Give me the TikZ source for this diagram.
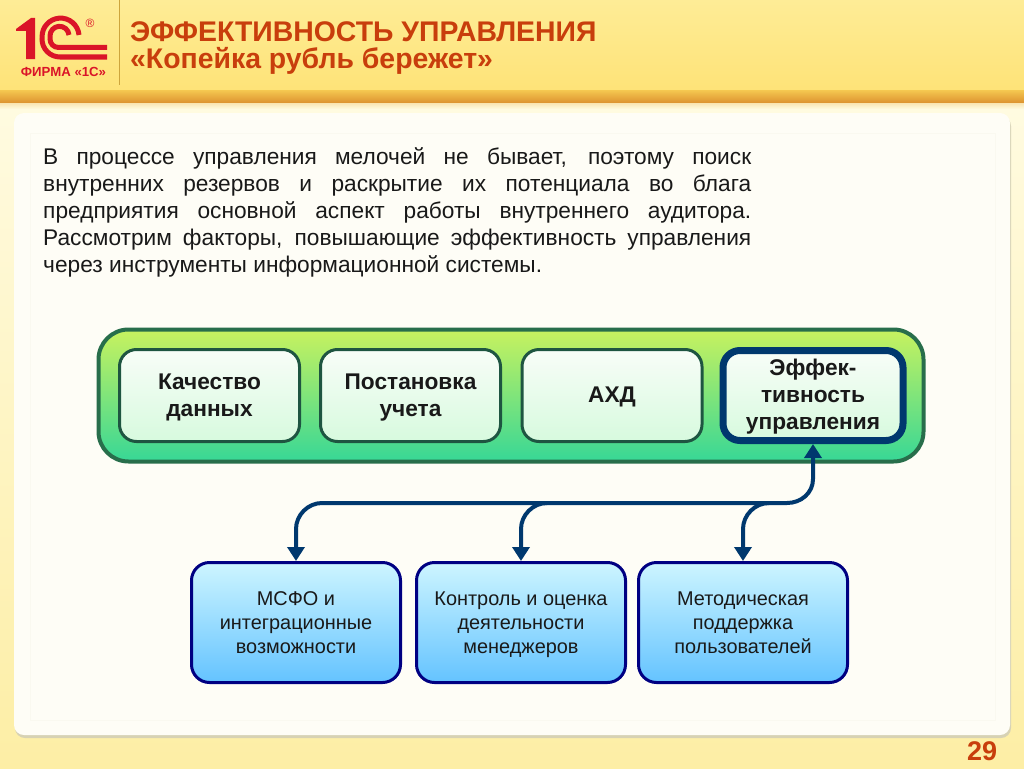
\documentclass[tikz,border=0pt]{standalone}
\usepackage{fontspec}
\setmainfont{Liberation Sans}
\usetikzlibrary{arrows.meta,calc}
\definecolor{titlered}{RGB}{200,62,12}
\definecolor{logored}{RGB}{218,20,40}
\definecolor{bodyink}{RGB}{25,25,25}
\definecolor{arrowblue}{RGB}{0,56,110}
\definecolor{bgtop}{RGB}{255,251,225}
\definecolor{bgbot}{RGB}{253,238,165}
\definecolor{headtop}{RGB}{254,236,150}
\definecolor{headbot}{RGB}{254,227,120}
\definecolor{striptop}{RGB}{245,200,80}
\definecolor{stripbot}{RGB}{222,150,50}
\definecolor{shadetop}{RGB}{248,225,170}
\definecolor{sepline}{RGB}{205,165,60}
\definecolor{panelshadow}{RGB}{215,210,180}
\definecolor{panelfill}{RGB}{254,253,246}
\definecolor{panelline}{RGB}{250,249,240}
\definecolor{bandline}{RGB}{40,110,75}
\definecolor{bandtop}{RGB}{200,242,95}
\definecolor{bandbot}{RGB}{55,215,150}
\definecolor{cardline}{RGB}{30,85,65}
\definecolor{cardtop}{RGB}{248,253,248}
\definecolor{cardbot}{RGB}{215,250,222}
\definecolor{blueline}{RGB}{0,0,130}
\definecolor{bluetop}{RGB}{205,245,255}
\definecolor{bluebot}{RGB}{100,195,255}
\newcommand{\greenlead}{\rule{0pt}{23pt}}
\newcommand{\bluelead}{\rule{0pt}{21pt}}
\tikzset{
 x=1pt,y=-1pt,
 greenbox/.style={rectangle,rounded corners=17pt,draw=cardline,line width=3pt,top color=cardtop,bottom color=cardbot,minimum height=92pt,minimum width=180pt,align=center,font=\bfseries\fontsize{22.7}{27}\selectfont,text=bodyink,inner sep=0pt},
 bluebox/.style={rectangle,rounded corners=18pt,draw=blueline,line width=3pt,top color=bluetop,bottom color=bluebot,minimum height=120pt,minimum width=209pt,align=center,font=\fontsize{19.9}{24}\selectfont,text=bodyink,inner sep=0pt},
 link/.style={draw=arrowblue,line width=4pt},
 tip/.style={-{Triangle[length=14pt,width=17pt]}},
 logostroke/.style={draw=logored,line width=5pt}
}
\begin{document}
\begin{tikzpicture}
\useasboundingbox (0,0) rectangle (1024,768);
% background
\fill[top color=bgtop,bottom color=bgbot] (0,100) rectangle (1024,768);
\fill[top color=shadetop,bottom color=bgtop] (0,102) rectangle (1024,109);
\fill[top color=headtop,bottom color=headbot] (0,0) rectangle (1024,90);
\fill[top color=striptop,bottom color=stripbot] (0,90) rectangle (1024,102);
\draw[sepline,line width=1pt] (119.5,0) -- (119.5,85);
% white panel
\fill[panelshadow,rounded corners=10pt] (15,116) rectangle (1011,738);
\fill[panelfill,rounded corners=10pt] (14,113) rectangle (1010,735);
\draw[panelline,line width=1pt] (30,133) rectangle (995,720);
% logo
\fill[logored] (16,29) -- (31,18) -- (35,18) -- (35,59) -- (26,59) -- (26,31) -- (16,31) -- cycle;
\draw[logostroke] (79,35) arc[start angle=5,end angle=180,radius=18.5pt] -- (42,39) arc[start angle=180,end angle=270,radius=18pt] -- (107,57);
\draw[logostroke] (69,35) arc[start angle=5,end angle=180,radius=9.5pt] -- (50,39) arc[start angle=180,end angle=270,radius=8.5pt] -- (107,47.5);
\node[text=logored,font=\bfseries\fontsize{13.2}{14}\selectfont,inner sep=0pt] (logotext) at (63.5,72) {ФИРМА «1С»};
\node[text=logored,font=\fontsize{12}{12}\selectfont,inner sep=0pt] (logomark) at (90,23) {®};
% title
\node[anchor=west,text=titlered,font=\bfseries\fontsize{28.4}{32}\selectfont,inner sep=0pt] (t1) at (130,32) {ЭФФЕКТИВНОСТЬ УПРАВЛЕНИЯ};
\node[anchor=west,text=titlered,font=\bfseries\fontsize{28.4}{32}\selectfont,inner sep=0pt] (t2) at (130,61) {«Копейка рубль бережет»};
% paragraph
\node[anchor=north west,text width=708pt,align=justify,font=\fontsize{22.7}{27}\selectfont,text=bodyink,inner sep=0pt] (para) at (43,147.5) {В процессе управления мелочей не бывает, поэтому поиск\linebreak внутренних резервов и раскрытие их потенциала во блага\linebreak предприятия основной аспект работы внутреннего аудитора.\linebreak Рассмотрим факторы, повышающие эффективность управления\linebreak через инструменты информационной системы.};
% green band
\node[rectangle,rounded corners=30pt,draw=bandline,line width=4pt,top color=bandtop,bottom color=bandbot,minimum width=825pt,minimum height=132pt,inner sep=0pt] (band) at (511,395.5) {};
\node[greenbox] (a1) at (209.5,395.5) {\greenlead Качество\\данных\strut};
\node[greenbox] (a2) at (410.5,395.5) {\greenlead Постановка\\учета\strut};
\node[greenbox] (a3) at (612,395.5) {\greenlead АХД\strut};
\node[greenbox,minimum height=90pt,draw=arrowblue,line width=7pt] (a4) at (813,395.5) {\greenlead Эффек-\\тивность\\управления\strut};
% blue boxes
\node[bluebox] (b1) at (296,622.5) {\bluelead МСФО и\\интеграционные\\возможности\strut};
\node[bluebox] (b2) at (521,622.5) {\bluelead Контроль и оценка\\деятельности\\менеджеров\strut};
\node[bluebox] (b3) at (743,622.5) {\bluelead Методическая\\поддержка\\пользователей\strut};
% connectors
\draw[link,{Triangle[length=14pt,width=17pt]}-{Triangle[length=14pt,width=17pt]}] (a4.south) -- ++(0,35) .. controls ++(0,14) and ++(14,0) .. (787,503) -- (322,503) .. controls ++(-14,0) and ++(0,-14) .. (296,529) -- (b1.north);
\draw[link,tip] (547,503) .. controls ++(-14,0) and ++(0,-14) .. (521,529) -- (b2.north);
\draw[link,tip] (769,503) .. controls ++(-14,0) and ++(0,-14) .. (743,529) -- (b3.north);
% page number
\node[text=titlered,font=\bfseries\fontsize{27}{30}\selectfont,inner sep=0pt] (page) at (982,751) {29};
\end{tikzpicture}
\end{document}
